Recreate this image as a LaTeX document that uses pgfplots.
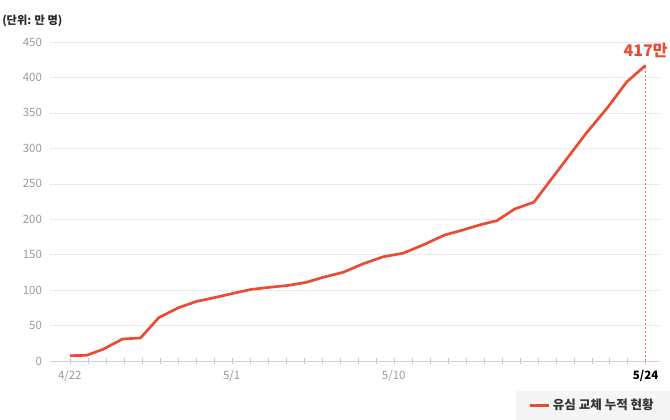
\documentclass[border=0pt]{standalone}
\usepackage{fontspec}
\setmainfont{Noto Sans CJK KR}
\usepackage{pgfplots}
\pgfplotsset{compat=1.18}
\definecolor{lred}{HTML}{EB4A33}
\definecolor{tickgray}{HTML}{9A9A9A}
\begin{document}
\begin{tikzpicture}[x=0.75pt,y=0.75pt]
\useasboundingbox (-50,-59) rectangle (620,361);
\begin{axis}[
  at={(0,0)}, anchor=south west, scale only axis,
  width=457.5pt, height=239.25pt,
  xmin=-1.1, xmax=32.8, ymin=0, ymax=450,
  axis lines*=left,
  y axis line style={draw=none},
  x axis line style={draw=gray!35},
  ytick={0,50,...,450},
  ymajorgrids,
  grid style={draw=gray!22, dash pattern=on 2pt off 1pt},
  xtick={0,9,18,32},
  xticklabels={4/22,5/1,5/10,\textcolor{black}{\textbf{5/24}}},
  minor xtick={0,...,32},
  tick align=center,
  major tick length=5pt, minor tick length=5pt,
  xtick style={draw=gray!45},
  ytick style={draw=none},
  /pgf/number format/assume math mode=true,
  ticklabel style={font=\fontsize{8.6}{10}\selectfont, text=tickgray},
  xticklabel style={yshift=-1pt},
  legend style={fill=gray!8, draw=none, anchor=south east, at={(1.0164,-0.185)},
    font=\fontsize{9.4}{11}\selectfont\bfseries, text=black!80, inner xsep=10pt, inner ysep=4pt},
  legend image code/.code={\draw[#1, line width=2pt] (0,0) -- (14pt,0);},
  clip=false,
]
\addplot[lred, line width=2pt, line join=round] coordinates {
(0,7.5) (0.93,8) (1.85,16.5) (2.93,31) (3.93,32.5) (4.94,61) (6.02,75)
(7.04,84) (8.15,90) (9.07,95.4) (10.09,101) (11.11,104) (12.13,106.6)
(13.15,111) (14.07,118) (15.18,125) (16.29,137) (17.41,147) (18.52,152)
(19.63,163.6) (20.83,177.7) (21.85,184.8) (22.78,192) (23.74,198)
(24.72,214.4) (25.79,224) (28.72,322) (29.9,358) (30.96,394) (32,417)
};
\addlegendentry{유심 교체 누적 현황\hspace{8pt}}
\addplot[draw=lred!80, line width=0.6pt, dash pattern=on 1.5pt off 1.5pt, forget plot] coordinates {(32,0) (32,417)};
\node[anchor=south, text=lred, font=\fontsize{12}{14}\selectfont\bfseries, yshift=2pt] at (axis cs:32,417) {417만};
\end{axis}
\node[anchor=west, inner sep=0pt, text=black!85, font=\fontsize{8.4}{10}\selectfont\bfseries] at (-48,340) {(단위: 만 명)};
\end{tikzpicture}
\end{document}
